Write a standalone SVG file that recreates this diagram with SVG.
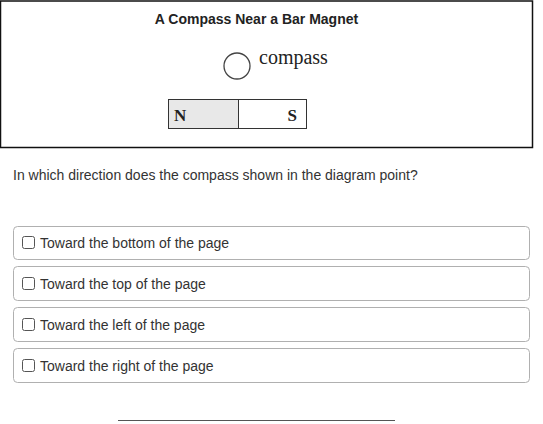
<svg xmlns="http://www.w3.org/2000/svg" width="543" height="424" viewBox="0 0 543 424">
<style>
.sans{font-family:"Liberation Sans",Arial,sans-serif;}
.serif{font-family:"Liberation Serif","Times New Roman",serif;}
.opt{fill:#fff;stroke:#b0b0b0;stroke-width:1;}
.cb{fill:#fff;stroke:#555;stroke-width:1;}
.ot{font-size:14px;fill:#333;}
</style>
<rect width="543" height="424" fill="#fff"/>
<g id="figure">
<rect x="0.5" y="1" width="532" height="146.5" fill="#fff" stroke="#111" stroke-width="1.5"/>
<text x="256.5" y="24" text-anchor="middle" class="sans" font-size="14" font-weight="bold" fill="#222">A Compass Near a Bar Magnet</text>
<g id="compass">
<circle cx="237" cy="66" r="13" fill="#fff" stroke="#444" stroke-width="1.3"/>
<text x="259" y="64" class="serif" font-size="20" fill="#222">compass</text>
</g>
<g id="magnet">
<rect x="168.5" y="99.5" width="70" height="29" fill="#e8e8e8" stroke="#333" stroke-width="1"/>
<rect x="238.5" y="99.5" width="68" height="29" fill="#fff" stroke="#333" stroke-width="1"/>
<text x="174" y="121" class="serif" font-size="17" font-weight="bold" fill="#222">N</text>
<text x="297" y="121" text-anchor="end" class="serif" font-size="17" font-weight="bold" fill="#222">S</text>
</g>
</g>
<text x="13" y="180" class="sans" font-size="14" fill="#333">In which direction does the compass shown in the diagram point?</text>
<g id="opt1">
<rect class="opt" x="13.5" y="226.5" width="516" height="33" rx="4"/>
<rect class="cb" x="22.5" y="236.5" width="12" height="12" rx="2"/>
<text x="40" y="248" class="sans ot">Toward the bottom of the page</text>
</g>
<g id="opt2">
<rect class="opt" x="13.5" y="266.5" width="516" height="34" rx="4"/>
<rect class="cb" x="22.5" y="277.5" width="12" height="12" rx="2"/>
<text x="40" y="289" class="sans ot">Toward the top of the page</text>
</g>
<g id="opt3">
<rect class="opt" x="13.5" y="307.5" width="516" height="34" rx="4"/>
<rect class="cb" x="22.5" y="318.5" width="12" height="12" rx="2"/>
<text x="40" y="330" class="sans ot">Toward the left of the page</text>
</g>
<g id="opt4">
<rect class="opt" x="13.5" y="348.5" width="516" height="34" rx="4"/>
<rect class="cb" x="22.5" y="359.5" width="12" height="12" rx="2"/>
<text x="40" y="371" class="sans ot">Toward the right of the page</text>
</g>
<line x1="118" y1="420.5" x2="395" y2="420.5" stroke="#555" stroke-width="1"/>
</svg>
